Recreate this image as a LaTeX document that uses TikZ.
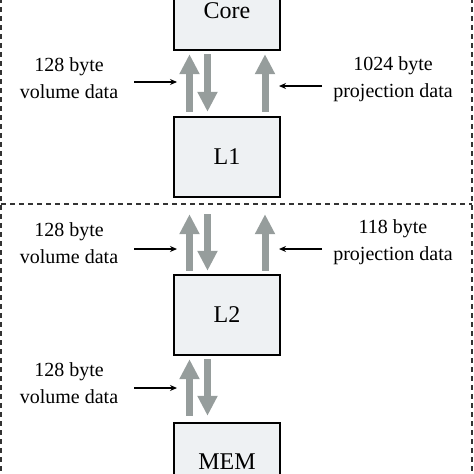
\documentclass[tikz,border=0pt]{standalone}
\usepackage{fontspec}
\setmainfont{Liberation Serif}
\usetikzlibrary{arrows.meta}
\definecolor{boxfill}{HTML}{EEF1F3}
\definecolor{flowgray}{HTML}{969D9C}
\tikzset{
  x=1pt,y=1pt,
  unit/.style={draw=black,line width=2.4pt,fill=boxfill,minimum width=106pt,minimum height=78pt,inner sep=0pt,font=\fontsize{24}{28}\selectfont},
  lbl/.style={align=center,font=\fontsize{20}{27}\selectfont,inner sep=0pt},
  flow/.style={draw=flowgray,line width=7pt,-{Triangle[width=19pt,length=20pt]}},
  pointer/.style={draw=black,line width=1.3pt,-{Stealth[length=7pt,width=6pt]}},
  frame/.style={draw=black!80,line width=1.6pt,dash pattern=on 5pt off 4pt}
}
\begin{document}
\begin{tikzpicture}
\useasboundingbox (0,0) rectangle (474,-474);
\clip (0,0) rectangle (474,-474);
% frame
\draw[frame] (1,20) -- (1,-480);
\draw[frame] (472,20) -- (472,-480);
\draw[frame] (1,-204) -- (472,-204);
% boxes
\node[unit] (core) at (227,-11) {Core};
\node[unit,minimum height=80pt] (l1) at (227,-157) {L1};
\node[unit,minimum height=80pt] (l2) at (227,-315) {L2};
\node[unit,minimum height=78pt] (mem) at (227,-462) {MEM};
% section 1 gray flows
\draw[flow] ([xshift=-37.5pt,yshift=4pt]l1.north) -- ([xshift=-37.5pt,yshift=-3pt]core.south);
\draw[flow] ([xshift=-19.5pt,yshift=-3pt]core.south) -- ([xshift=-19.5pt,yshift=4pt]l1.north);
\draw[flow] ([xshift=38pt,yshift=4pt]l1.north) -- ([xshift=38pt,yshift=-3pt]core.south);
% section 2 gray flows
\draw[flow] ([xshift=-37.5pt,yshift=3pt]l2.north) -- ([xshift=-37.5pt,yshift=-16pt]l1.south);
\draw[flow] ([xshift=-19.5pt,yshift=-16pt]l1.south) -- ([xshift=-19.5pt,yshift=3pt]l2.north);
\draw[flow] ([xshift=38pt,yshift=3pt]l2.north) -- ([xshift=38pt,yshift=-16pt]l1.south);
% section 3 gray flows
\draw[flow] ([xshift=-37.5pt,yshift=6pt]mem.north) -- ([xshift=-37.5pt,yshift=-3pt]l2.south);
\draw[flow] ([xshift=-19.5pt,yshift=-3pt]l2.south) -- ([xshift=-19.5pt,yshift=6pt]mem.north);
% labels
\node[lbl] (v1) at (69,-78) {128 byte\\volume data};
\node[lbl] (p1) at (393,-79.5) {1024 byte\\projection data};
\node[lbl] (v2) at (69,-243) {128 byte\\volume data};
\node[lbl] (p2) at (393,-242) {118 byte\\projection data};
\node[lbl] (v3) at (69,-383.5) {128 byte\\volume data};
% pointer end points
\coordinate (v1s) at (134,-82);  \coordinate (v1e) at (177,-82);
\coordinate (p1s) at (322,-86);  \coordinate (p1e) at (279,-86);
\coordinate (v2s) at (134,-249); \coordinate (v2e) at (177,-249);
\coordinate (p2s) at (322,-249); \coordinate (p2e) at (279,-249);
\coordinate (v3s) at (134,-388); \coordinate (v3e) at (177,-388);
\draw[pointer] (v1s) -- (v1e);
\draw[pointer] (p1s) -- (p1e);
\draw[pointer] (v2s) -- (v2e);
\draw[pointer] (p2s) -- (p2e);
\draw[pointer] (v3s) -- (v3e);
\end{tikzpicture}
\end{document}
